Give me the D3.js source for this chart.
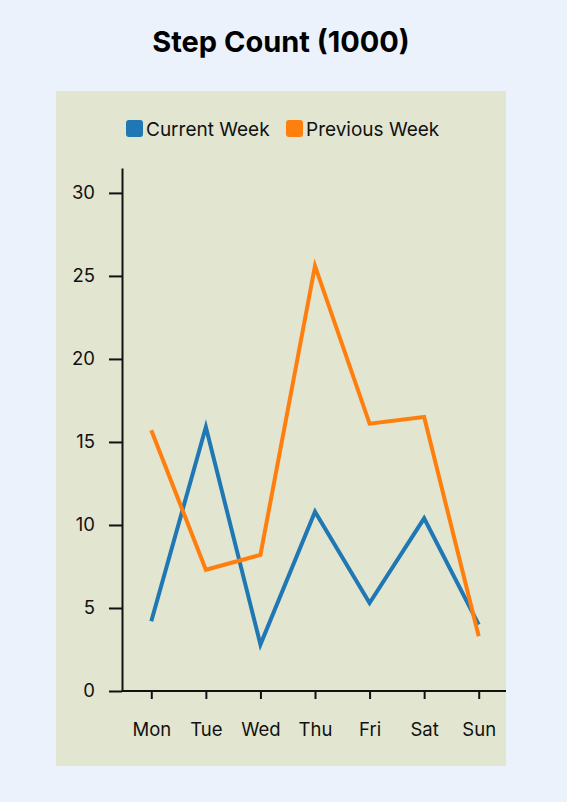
<!DOCTYPE html>
<html>
<head>
<meta charset="utf-8">
<script src="https://cdn.jsdelivr.net/npm/d3@7"></script>
<style>
  body { margin: 0; background: #ebf2fb; font-family: Inter, "Noto Sans", sans-serif; }
  .axis text { font-family: Inter, "Noto Sans", sans-serif; font-size: 18.5px; fill: #111; }
  .axis path, .axis line { stroke: #111; stroke-width: 2; }
</style>
</head>
<body>
<div id="d3-container"></div>
<script>
/**
 * CONSTANTS AND GLOBALS
 * */
const width = 567,
  height = 802,
  panel = { x: 56, y: 91, w: 450, h: 675 },
  margin = { top: 168, bottom: 111, left: 122, right: 61 };

// DATA (step count in thousands)
const days = ["Mon", "Tue", "Wed", "Thu", "Fri", "Sat", "Sun"];
const currentWeek = [4.2, 15.9, 2.8, 10.8, 5.3, 10.4, 4.0];
const previousWeek = [15.7, 7.3, 8.2, 25.6, 16.1, 16.5, 3.3];
const yTicks = [0, 5, 10, 15, 20, 25, 30];
const seriesNames = ["Current Week", "Previous Week"];
const colors = ["#1f77b4", "#ff7f0e"];

const svg = d3
  .select("#d3-container")
  .append("svg")
  .attr("width", width)
  .attr("height", height);

// title
svg
  .append("text")
  .attr("x", 281)
  .attr("y", 52)
  .attr("text-anchor", "middle")
  .attr("font-size", 29)
  .attr("font-weight", 700)
  .attr("fill", "#000")
  .text("Step Count (1000)");

// panel background
svg
  .append("rect")
  .attr("x", panel.x)
  .attr("y", panel.y)
  .attr("width", panel.w)
  .attr("height", panel.h)
  .attr("fill", "#e2e5d0");

// SCALES
const xScale = d3
  .scalePoint()
  .domain(days)
  .range([margin.left + 2, width - margin.right])
  .padding(0.5);

const yScale = d3
  .scaleLinear()
  .domain([0, 31.5])
  .range([height - margin.bottom, margin.top]);

// AXES
svg
  .append("g")
  .attr("class", "axis x-axis")
  .attr("transform", `translate(0,${height - margin.bottom})`)
  .call(d3.axisBottom(xScale).tickSize(8).tickPadding(24).tickSizeOuter(0))
  .call(g => g.select(".domain").attr("d", `M${margin.left},0H${width - margin.right}`));

svg
  .append("g")
  .attr("class", "axis y-axis")
  .attr("transform", `translate(${margin.left},0)`)
  .call(d3.axisLeft(yScale).tickValues(yTicks).tickSize(13).tickPadding(14).tickSizeOuter(0));

// LINES
const line = d3
  .line()
  .x((d, i) => xScale(days[i]))
  .y(d => yScale(d));

svg
  .selectAll(".series")
  .data([currentWeek, previousWeek])
  .join("path")
  .attr("class", "series")
  .attr("fill", "none")
  .attr("stroke", (d, i) => colors[i])
  .attr("stroke-width", 4)
  .attr("d", line);

// LEGEND
const legendX = [126, 286];
const legend = svg
  .selectAll(".legend")
  .data(seriesNames)
  .join("g")
  .attr("class", "legend")
  .attr("transform", (d, i) => `translate(${legendX[i]},120)`);

legend
  .append("rect")
  .attr("width", 17)
  .attr("height", 17)
  .attr("rx", 3)
  .attr("fill", (d, i) => colors[i]);

legend
  .append("text")
  .attr("x", 20)
  .attr("y", 15.5)
  .attr("font-size", 19)
  .attr("fill", "#111")
  .text(d => d);
</script>
</body>
</html>
